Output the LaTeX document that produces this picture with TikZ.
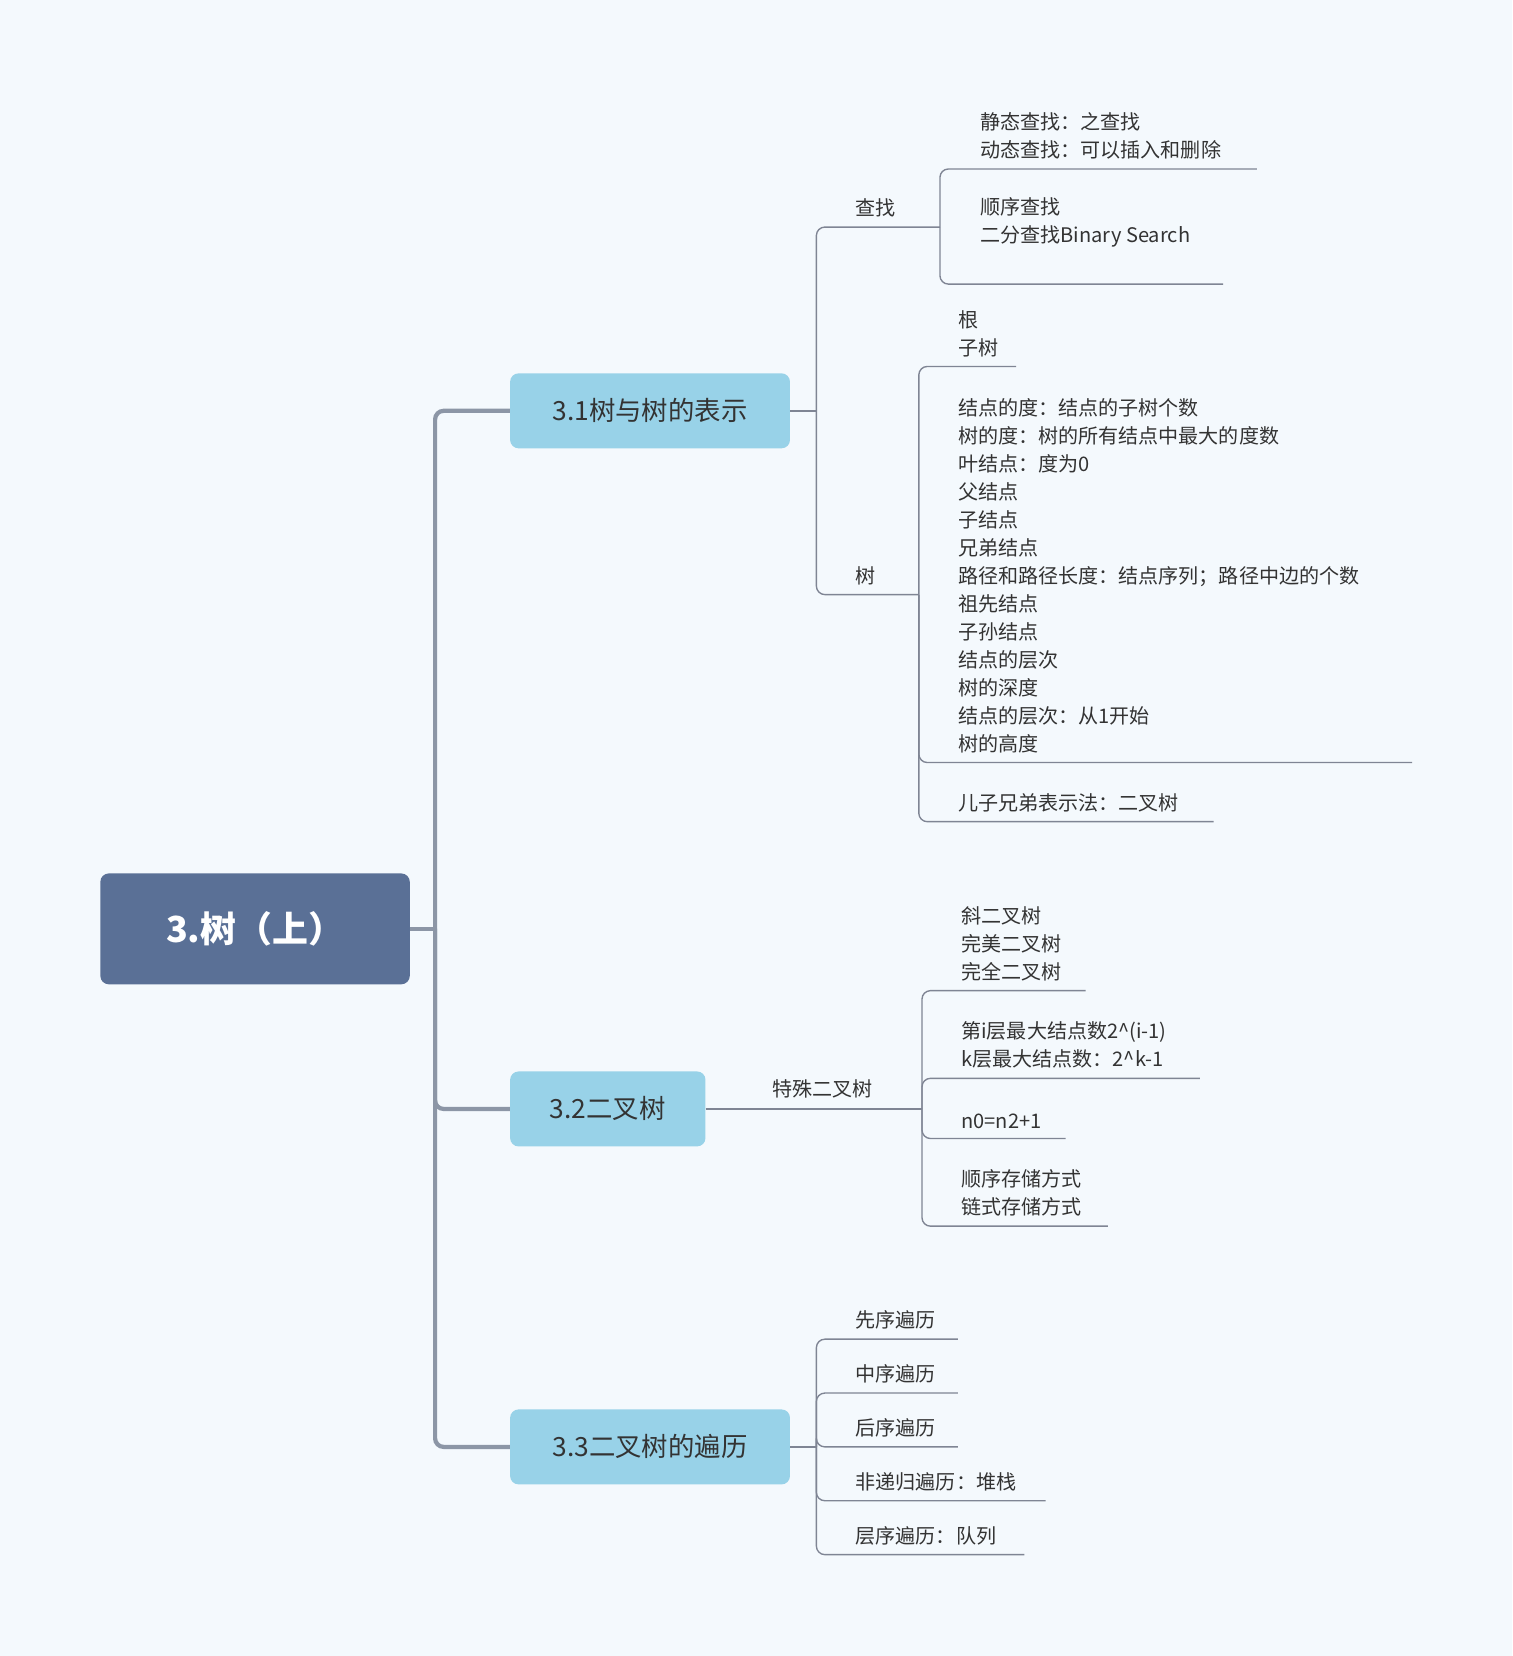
\documentclass[tikz,border=0pt]{standalone}
\usepackage{fontspec}
\setmainfont{Noto Sans CJK SC}
\usetikzlibrary{positioning}
\definecolor{bgc}{HTML}{F4F9FD}
\definecolor{rootc}{HTML}{5A7096}
\definecolor{subc}{HTML}{98D2E8}
\definecolor{linec}{HTML}{7F8594}
\definecolor{trunkc}{HTML}{8C96A6}
\definecolor{txtc}{HTML}{333333}
\tikzset{
  root node/.style={rectangle,rounded corners=8pt,fill=rootc,text=white,minimum width=293pt,minimum height=105pt,font=\fontsize{34}{40}\selectfont\bfseries},
  sub node/.style={rectangle,rounded corners=8pt,fill=subc,text=txtc,minimum height=71pt,font=\fontsize{25}{30}\selectfont},
  leaf text/.style={anchor=south west,inner sep=0pt,align=left,text=txtc,font=\fontsize{19}{26.5}\selectfont},
  label text/.style={anchor=south west,inner sep=0pt,text=txtc,font=\fontsize{19}{26.5}\selectfont},
  trunk/.style={draw=trunkc,line width=4pt,rounded corners=8pt},
  branch/.style={draw=linec,line width=1.3pt,rounded corners=8pt}
}
\begin{document}
\begin{tikzpicture}[x=1pt,y=-1pt]
\fill[bgc] (0,0) rectangle (1432,1568);
\useasboundingbox (0,0) rectangle (1432,1568);
% main nodes
\node[root node] (root) at (241.5,879.5) {3.树（上）};
\node[sub node,minimum width=265pt] (b31) at (615.5,389) {3.1树与树的表示};
\node[sub node,minimum width=185pt] (b32) at (575.5,1050) {3.2二叉树};
\node[sub node,minimum width=265pt] (b33) at (615.5,1370) {3.3二叉树的遍历};
% trunk
\coordinate (t) at (412,879.5);
\draw[trunk] (root.east) -- (t);
\draw[trunk] (t) |- (b31.west);
\draw[trunk] (t) |- (b32.west);
\draw[trunk] (t) |- (b33.west);

% 3.1
\coordinate (j31) at (773,389);
\coordinate (cz) at (890,215);
\coordinate (sh) at (870,563);
\draw[branch] (b31.east) -- (j31);
\draw[branch] (j31) |- (cz);
\draw[branch] (j31) |- (sh);
\node[label text] (lcz) at (810,206) {查找};
\node[label text] (lsh) at (810,554) {树};

\coordinate (cz1) at (1190,160);
\coordinate (cz2) at (1158,269);
\draw[branch] (cz) |- (cz1);
\draw[branch] (cz) |- (cz2);
\node[leaf text] (tcz1) at (928,151) {静态查找：之查找\\动态查找：可以插入和删除};
\node[leaf text] (tcz2) at (928,234) {顺序查找\\二分查找Binary Search};

\coordinate (sh1) at (962,347);
\coordinate (sh2) at (1337,722);
\coordinate (sh3) at (1149,778);
\draw[branch] (sh) |- (sh1);
\draw[branch] (sh) |- (sh2);
\draw[branch] (sh) |- (sh3);
\node[leaf text] (tsh1) at (907,338) {根\\子树};
\node[leaf text] (tsh2) at (907,713) {结点的度：结点的子树个数\\树的度：树的所有结点中最大的度数\\叶结点：度为0\\父结点\\子结点\\兄弟结点\\路径和路径长度：结点序列；路径中边的个数\\祖先结点\\子孙结点\\结点的层次\\树的深度\\结点的层次：从1开始\\树的高度};
\node[leaf text] (tsh3) at (907,769) {儿子兄弟表示法：二叉树};

% 3.2
\coordinate (j32) at (873,1050);
\draw[branch] (b32.east) -- (j32);
\node[label text] (lts) at (731,1040) {特殊二叉树};
\coordinate (ts1) at (1028,938);
\coordinate (ts2) at (1136,1021);
\coordinate (ts3) at (1009,1078);
\coordinate (ts4) at (1049,1161);
\foreach \e in {ts1,ts2,ts3,ts4} \draw[branch] (j32) |- (\e);
\node[leaf text] (tts1) at (910,929) {斜二叉树\\完美二叉树\\完全二叉树};
\node[leaf text] (tts2) at (910,1012) {第i层最大结点数2\^{}(i-1)\\k层最大结点数：2\^{}k-1};
\node[leaf text] (tts3) at (910,1069) {n0=n2+1};
\node[leaf text] (tts4) at (910,1152) {顺序存储方式\\链式存储方式};

% 3.3
\coordinate (j33) at (773,1370);
\draw[branch] (b33.east) -- (j33);
\coordinate (bl1) at (907,1268);
\coordinate (bl2) at (907,1319);
\coordinate (bl3) at (907,1370);
\coordinate (bl4) at (990,1421);
\coordinate (bl5) at (970,1472);
\foreach \e in {bl1,bl2,bl3,bl4,bl5} \draw[branch] (j33) |- (\e);
\node[label text] (tbl1) at (810,1259) {先序遍历};
\node[label text] (tbl2) at (810,1310) {中序遍历};
\node[label text] (tbl3) at (810,1361) {后序遍历};
\node[label text] (tbl4) at (810,1412) {非递归遍历：堆栈};
\node[label text] (tbl5) at (810,1463) {层序遍历：队列};
\end{tikzpicture}
\end{document}
